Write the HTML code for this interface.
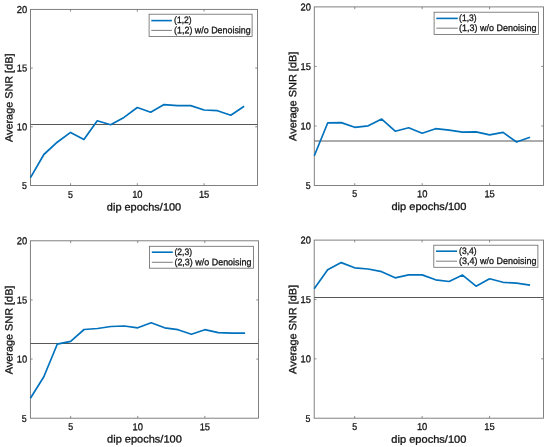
<!DOCTYPE html>
<html><head><meta charset="utf-8"><title>Average SNR vs dip epochs</title>
<style>html,body{margin:0;padding:0;background:#fff}svg{display:block}text{font-family:"Liberation Sans", sans-serif;fill:#151515}.t{stroke:#151515;stroke-width:0.3px}</style></head>
<body>
<svg width="550" height="447" viewBox="0 0 550 447">
<rect width="550" height="447" fill="#fff"/>
<g>
<rect x="30.5" y="9.4" width="227" height="176.1" fill="#fff" stroke="#737373" stroke-width="0.9"/>
<path d="M70.56 185.5v-2.27M70.56 9.4v2.27M137.32 185.5v-2.27M137.32 9.4v2.27M204.09 185.5v-2.27M204.09 9.4v2.27M30.5 126.8h2.27M257.5 126.8h-2.27M30.5 68.1h2.27M257.5 68.1h-2.27" stroke="#707070" stroke-width="0.8" fill="none"/>
<path d="M30.5 124.5H257.5" stroke="#585858" stroke-width="1" fill="none"/>
<polyline points="30.5,177.6 43.85,154.5 57.21,142.2 70.56,132.4 83.91,139.5 97.26,120.8 110.62,124.7 123.97,117.4 137.32,107.5 150.68,112.2 164.03,104.6 177.38,105.6 190.74,105.6 204.09,110 217.44,110.7 230.79,115.2 244.15,106.3" fill="none" stroke="#0072BD" stroke-width="1.7" stroke-linejoin="round"/>
<text class="t" transform="translate(27.2 12.9) rotate(0.03)" font-size="10" text-anchor="end" textLength="10.4" lengthAdjust="spacingAndGlyphs">20</text>
<text class="t" transform="translate(27.2 71.6) rotate(0.03)" font-size="10" text-anchor="end" textLength="10.4" lengthAdjust="spacingAndGlyphs">15</text>
<text class="t" transform="translate(27.2 130.3) rotate(0.03)" font-size="10" text-anchor="end" textLength="10.4" lengthAdjust="spacingAndGlyphs">10</text>
<text class="t" transform="translate(26.8 189) rotate(0.03)" font-size="10" text-anchor="end" textLength="4.9" lengthAdjust="spacingAndGlyphs">5</text>
<text class="t" transform="translate(70.56 197.7) rotate(0.03)" font-size="10" text-anchor="middle" textLength="4.9" lengthAdjust="spacingAndGlyphs">5</text>
<text class="t" transform="translate(137.32 197.7) rotate(0.03)" font-size="10" text-anchor="middle" textLength="10.4" lengthAdjust="spacingAndGlyphs">10</text>
<text class="t" transform="translate(204.09 197.7) rotate(0.03)" font-size="10" text-anchor="middle" textLength="10.4" lengthAdjust="spacingAndGlyphs">15</text>
<text class="t" transform="translate(144 210.4) rotate(0.03)" font-size="10.5" text-anchor="middle" textLength="74.3" lengthAdjust="spacingAndGlyphs">dip epochs/100</text>
<text class="t" transform="translate(12.5 97.8) rotate(-89.97)" font-size="10.5" text-anchor="middle" textLength="88.4" lengthAdjust="spacingAndGlyphs">Average SNR [dB]</text>
<rect x="149.1" y="14.2" width="103" height="22.3" fill="#fff" stroke="#666" stroke-width="0.8"/>
<path d="M151.3 20.6H171.9" stroke="#0072BD" stroke-width="1.6" fill="none"/>
<path d="M151.3 30.4H171.9" stroke="#5c5c5c" stroke-width="0.8" fill="none"/>
<text class="t" transform="translate(174.1 23.35) rotate(0.03)" font-size="9.3" textLength="17.6" lengthAdjust="spacingAndGlyphs">(1,2)</text>
<text class="t" transform="translate(174.1 33.25) rotate(0.03)" font-size="9.3" textLength="76.6" lengthAdjust="spacingAndGlyphs">(1,2) w/o Denoising</text>
</g>
<g>
<rect x="314.3" y="6.9" width="229.2" height="178.6" fill="#fff" stroke="#737373" stroke-width="0.9"/>
<path d="M354.75 185.5v-2.29M354.75 6.9v2.29M422.16 185.5v-2.29M422.16 6.9v2.29M489.57 185.5v-2.29M489.57 6.9v2.29M314.3 125.97h2.29M543.5 125.97h-2.29M314.3 66.43h2.29M543.5 66.43h-2.29" stroke="#707070" stroke-width="0.8" fill="none"/>
<path d="M314.3 141H543.5" stroke="#585858" stroke-width="1" fill="none"/>
<polyline points="314.3,155.8 327.78,122.8 341.26,122.6 354.75,127.3 368.23,125.8 381.71,119.1 395.19,131.2 408.68,127.8 422.16,133.2 435.64,128.7 449.12,130.2 462.61,132.2 476.09,131.9 489.57,134.9 503.05,132.4 516.54,142 530.02,137.3" fill="none" stroke="#0072BD" stroke-width="1.7" stroke-linejoin="round"/>
<text class="t" transform="translate(311 10.4) rotate(0.03)" font-size="10" text-anchor="end" textLength="10.4" lengthAdjust="spacingAndGlyphs">20</text>
<text class="t" transform="translate(311 69.93) rotate(0.03)" font-size="10" text-anchor="end" textLength="10.4" lengthAdjust="spacingAndGlyphs">15</text>
<text class="t" transform="translate(311 129.47) rotate(0.03)" font-size="10" text-anchor="end" textLength="10.4" lengthAdjust="spacingAndGlyphs">10</text>
<text class="t" transform="translate(310.6 189) rotate(0.03)" font-size="10" text-anchor="end" textLength="4.9" lengthAdjust="spacingAndGlyphs">5</text>
<text class="t" transform="translate(354.75 197.3) rotate(0.03)" font-size="10" text-anchor="middle" textLength="4.9" lengthAdjust="spacingAndGlyphs">5</text>
<text class="t" transform="translate(422.16 197.3) rotate(0.03)" font-size="10" text-anchor="middle" textLength="10.4" lengthAdjust="spacingAndGlyphs">10</text>
<text class="t" transform="translate(489.57 197.3) rotate(0.03)" font-size="10" text-anchor="middle" textLength="10.4" lengthAdjust="spacingAndGlyphs">15</text>
<text class="t" transform="translate(428.9 210) rotate(0.03)" font-size="10.5" text-anchor="middle" textLength="75.02" lengthAdjust="spacingAndGlyphs">dip epochs/100</text>
<text class="t" transform="translate(296.3 96.3) rotate(-89.97)" font-size="10.5" text-anchor="middle" textLength="89.2" lengthAdjust="spacingAndGlyphs">Average SNR [dB]</text>
<rect x="434.1" y="12.2" width="104.3" height="22.3" fill="#fff" stroke="#666" stroke-width="0.8"/>
<path d="M436.3 18.4H457.8" stroke="#0072BD" stroke-width="1.6" fill="none"/>
<path d="M436.3 28.2H457.8" stroke="#5c5c5c" stroke-width="0.8" fill="none"/>
<text class="t" transform="translate(459.1 21.15) rotate(0.03)" font-size="9.3" textLength="17.6" lengthAdjust="spacingAndGlyphs">(1,3)</text>
<text class="t" transform="translate(459.1 31.05) rotate(0.03)" font-size="9.3" textLength="77.4" lengthAdjust="spacingAndGlyphs">(1,3) w/o Denoising</text>
</g>
<g>
<rect x="30.4" y="240.8" width="228.1" height="177.4" fill="#fff" stroke="#737373" stroke-width="0.9"/>
<path d="M70.65 418.2v-2.28M70.65 240.8v2.28M137.74 418.2v-2.28M137.74 240.8v2.28M204.83 418.2v-2.28M204.83 240.8v2.28M30.4 359.07h2.28M258.5 359.07h-2.28M30.4 299.93h2.28M258.5 299.93h-2.28" stroke="#707070" stroke-width="0.8" fill="none"/>
<path d="M30.4 343.5H258.5" stroke="#585858" stroke-width="1" fill="none"/>
<polyline points="30.4,398.3 43.82,376.7 57.24,344.2 70.65,341.3 84.07,329.5 97.49,328.5 110.91,326.5 124.32,326 137.74,327.8 151.16,322.8 164.58,327.8 177.99,329.7 191.41,334.2 204.83,329.7 218.25,332.7 231.66,333.2 245.08,333.2" fill="none" stroke="#0072BD" stroke-width="1.7" stroke-linejoin="round"/>
<text class="t" transform="translate(27.1 244.3) rotate(0.03)" font-size="10" text-anchor="end" textLength="10.4" lengthAdjust="spacingAndGlyphs">20</text>
<text class="t" transform="translate(27.1 303.43) rotate(0.03)" font-size="10" text-anchor="end" textLength="10.4" lengthAdjust="spacingAndGlyphs">15</text>
<text class="t" transform="translate(27.1 362.57) rotate(0.03)" font-size="10" text-anchor="end" textLength="10.4" lengthAdjust="spacingAndGlyphs">10</text>
<text class="t" transform="translate(26.7 421.7) rotate(0.03)" font-size="10" text-anchor="end" textLength="4.9" lengthAdjust="spacingAndGlyphs">5</text>
<text class="t" transform="translate(70.65 430.2) rotate(0.03)" font-size="10" text-anchor="middle" textLength="4.9" lengthAdjust="spacingAndGlyphs">5</text>
<text class="t" transform="translate(137.74 430.2) rotate(0.03)" font-size="10" text-anchor="middle" textLength="10.4" lengthAdjust="spacingAndGlyphs">10</text>
<text class="t" transform="translate(204.83 430.2) rotate(0.03)" font-size="10" text-anchor="middle" textLength="10.4" lengthAdjust="spacingAndGlyphs">15</text>
<text class="t" transform="translate(144.45 442.5) rotate(0.03)" font-size="10.5" text-anchor="middle" textLength="74.66" lengthAdjust="spacingAndGlyphs">dip epochs/100</text>
<text class="t" transform="translate(12.4 329.9) rotate(-89.97)" font-size="10.5" text-anchor="middle" textLength="88.6" lengthAdjust="spacingAndGlyphs">Average SNR [dB]</text>
<rect x="149.4" y="246.3" width="104" height="21.9" fill="#fff" stroke="#666" stroke-width="0.8"/>
<path d="M151.8 252.2H172.8" stroke="#0072BD" stroke-width="1.6" fill="none"/>
<path d="M151.8 262.3H172.8" stroke="#5c5c5c" stroke-width="0.8" fill="none"/>
<text class="t" transform="translate(174.4 254.95) rotate(0.03)" font-size="9.3" textLength="17.6" lengthAdjust="spacingAndGlyphs">(2,3)</text>
<text class="t" transform="translate(174.4 265.15) rotate(0.03)" font-size="9.3" textLength="77.1" lengthAdjust="spacingAndGlyphs">(2,3) w/o Denoising</text>
</g>
<g>
<rect x="314.2" y="240.1" width="229.3" height="178.1" fill="#fff" stroke="#737373" stroke-width="0.9"/>
<path d="M354.66 418.2v-2.29M354.66 240.1v2.29M422.11 418.2v-2.29M422.11 240.1v2.29M489.55 418.2v-2.29M489.55 240.1v2.29M314.2 358.83h2.29M543.5 358.83h-2.29M314.2 299.47h2.29M543.5 299.47h-2.29" stroke="#707070" stroke-width="0.8" fill="none"/>
<path d="M314.2 297.5H543.5" stroke="#585858" stroke-width="1" fill="none"/>
<polyline points="314.2,288.7 327.69,269.7 341.18,262.6 354.66,267.8 368.15,269 381.64,271.7 395.13,277.8 408.62,274.9 422.11,274.9 435.59,279.8 449.08,281.5 462.57,275.1 476.06,286.2 489.55,278.8 503.04,282.3 516.52,283.2 530.01,285.2" fill="none" stroke="#0072BD" stroke-width="1.7" stroke-linejoin="round"/>
<text class="t" transform="translate(310.9 243.6) rotate(0.03)" font-size="10" text-anchor="end" textLength="10.4" lengthAdjust="spacingAndGlyphs">20</text>
<text class="t" transform="translate(310.9 302.97) rotate(0.03)" font-size="10" text-anchor="end" textLength="10.4" lengthAdjust="spacingAndGlyphs">15</text>
<text class="t" transform="translate(310.9 362.33) rotate(0.03)" font-size="10" text-anchor="end" textLength="10.4" lengthAdjust="spacingAndGlyphs">10</text>
<text class="t" transform="translate(310.5 421.7) rotate(0.03)" font-size="10" text-anchor="end" textLength="4.9" lengthAdjust="spacingAndGlyphs">5</text>
<text class="t" transform="translate(354.66 430.1) rotate(0.03)" font-size="10" text-anchor="middle" textLength="4.9" lengthAdjust="spacingAndGlyphs">5</text>
<text class="t" transform="translate(422.11 430.1) rotate(0.03)" font-size="10" text-anchor="middle" textLength="10.4" lengthAdjust="spacingAndGlyphs">10</text>
<text class="t" transform="translate(489.55 430.1) rotate(0.03)" font-size="10" text-anchor="middle" textLength="10.4" lengthAdjust="spacingAndGlyphs">15</text>
<text class="t" transform="translate(428.85 442.8) rotate(0.03)" font-size="10.5" text-anchor="middle" textLength="75.05" lengthAdjust="spacingAndGlyphs">dip epochs/100</text>
<text class="t" transform="translate(296.2 329.4) rotate(-89.97)" font-size="10.5" text-anchor="middle" textLength="89" lengthAdjust="spacingAndGlyphs">Average SNR [dB]</text>
<rect x="433.8" y="245.2" width="104.1" height="22.1" fill="#fff" stroke="#666" stroke-width="0.8"/>
<path d="M436 251.2H457" stroke="#0072BD" stroke-width="1.6" fill="none"/>
<path d="M436 261.2H457" stroke="#5c5c5c" stroke-width="0.8" fill="none"/>
<text class="t" transform="translate(459.1 253.95) rotate(0.03)" font-size="9.3" textLength="17.6" lengthAdjust="spacingAndGlyphs">(3,4)</text>
<text class="t" transform="translate(459.1 264.05) rotate(0.03)" font-size="9.3" textLength="77.4" lengthAdjust="spacingAndGlyphs">(3,4) w/o Denoising</text>
</g>
</svg>
</body></html>
